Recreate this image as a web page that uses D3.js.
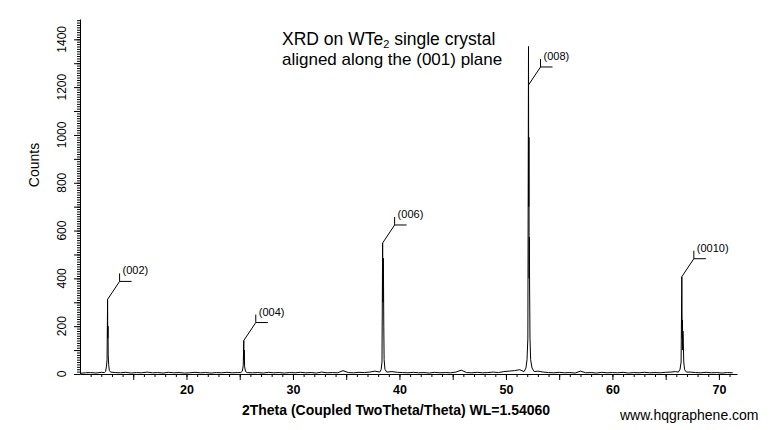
<!DOCTYPE html>
<html>
<head>
<meta charset="utf-8">
<script src="https://cdn.jsdelivr.net/npm/d3@7"></script>
<style>
    body { margin: 0; background: #fff; }
    svg { display: block; font-family: "Liberation Sans", Arial, sans-serif; }
</style>
</head>
<body>
<div id="xrd-chart"></div>
<script>

// scan points, 2theta (deg)
let scanAngles = [
    10.0, 10.5, 11.0, 11.5, 12.0,
    12.30, 12.40, 12.48, 12.54, 12.59, 12.61, 12.63, 12.65, 12.69, 12.75, 12.88,
    13.3, 13.8, 14.3, 14.8, 15.3, 15.8, 16.3, 16.8, 17.3, 17.8, 18.3, 18.8, 19.3, 19.8,
    20.3, 20.8, 21.3, 21.8, 22.3, 22.8, 23.3, 23.8, 24.3, 24.8,
    25.10, 25.25, 25.33, 25.38, 25.40, 25.42, 25.46, 25.55, 25.70,
    26.2, 26.7, 27.2, 27.7, 28.2, 28.7, 29.2, 29.7, 30.2, 30.7, 31.2, 31.7, 32.2, 32.7,
    33.2, 33.7, 34.2, 34.7, 35.2, 35.7, 36.2, 36.7, 37.2, 37.7,
    38.15, 38.28, 38.36, 38.42, 38.45, 38.48, 38.50, 38.53, 38.56, 38.64, 38.80,
    39.3, 39.8, 40.3, 40.8, 41.3, 41.8, 42.3, 42.8, 43.3, 43.8, 44.3, 44.8, 45.3, 45.8,
    46.3, 46.8, 47.3, 47.8, 48.3, 48.8, 49.3, 49.8, 50.3, 50.8, 51.3,
    51.70, 51.88, 51.98, 52.06, 52.12, 52.14, 52.16, 52.18, 52.20, 52.22, 52.26, 52.32, 52.45, 52.65,
    53.0, 53.5, 54.0, 54.5, 55.0, 55.5, 56.0, 56.5, 57.0, 57.5, 58.0, 58.5, 59.0, 59.5,
    60.0, 60.5, 61.0, 61.5, 62.0, 62.5, 63.0, 63.5, 64.0, 64.5, 65.0, 65.5, 65.9,
    66.20, 66.35, 66.45, 66.52, 66.55, 66.58, 66.60, 66.62, 66.65, 66.70, 66.78, 66.95,
    67.3, 67.8, 68.3, 68.8, 69.3, 69.8, 70.3, 70.8, 71.3
];

// counts at each scan point
let scanCounts = [
    3, 5, 6, 4, 7,
    6, 10, 30, 60, 312, 150, 200, 80, 40, 15, 8,
    6, 5, 7, 4, 6, 5, 8, 5, 6, 4, 7, 5, 6, 4,
    5, 7, 5, 6, 4, 6, 5, 7, 5, 6,
    6, 12, 35, 140, 60, 100, 30, 10, 6,
    5, 6, 4, 7, 5, 6, 4, 6, 5, 7, 5, 6, 4, 8,
    5, 6, 5, 14, 6, 5, 7, 6, 8, 12,
    8, 18, 50, 548, 300, 485, 420, 200, 60, 20, 8,
    10, 7, 6, 5, 7, 5, 6, 4, 7, 5, 6, 5, 8, 16,
    6, 5, 7, 5, 6, 8, 6, 10, 12, 14, 18,
    10, 25, 60, 150, 1370, 700, 990, 400, 573, 385, 150, 60, 25, 10,
    12, 8, 6, 5, 7, 5, 6, 4, 12, 5, 6, 4, 7, 5,
    6, 5, 7, 4, 6, 5, 7, 5, 6, 5, 7, 8, 10,
    8, 20, 50, 407, 150, 226, 100, 180, 142, 50, 18, 8,
    8, 6, 5, 7, 5, 6, 4, 6, 5
];

// reflections: label, 2theta, counts where the leader starts
let peakLabels = ["(002)", "(004)", "(006)", "(008)", "(0010)"];
let peakAngles = [12.59, 25.38, 38.42, 52.12, 66.52];
let peakLeaderCounts = [312, 140, 548, 1209, 407];

let xTickLabels = [20, 30, 40, 50, 60, 70];
let yTickLabels = [0, 200, 400, 600, 800, 1000, 1200, 1400];

let width = 782,
    height = 430;

let svg = d3.select("#xrd-chart")
    .append("svg")
    .attr("width", width)
    .attr("height", height);

svg.append("rect")
    .attr("width", width)
    .attr("height", height)
    .attr("fill", "#fff");

// scales
let x = d3.scaleLinear()
    .domain([10, 71.7])
    .range([80, 737]);

let y = d3.scaleLinear()
    .domain([0, 1485])
    .range([374, 19]);

// x axis: minor ticks every degree, longer every 5
svg.append("g")
    .attr("transform", "translate(0, 374)")
    .call(d3.axisBottom(x).tickValues(d3.range(11, 72, 1)).tickSize(3).tickFormat(""))
    .call(g => g.select(".domain").remove());

let xAxis = svg.append("g")
    .attr("class", "x-axis")
    .attr("transform", "translate(0, 374)")
    .call(d3.axisBottom(x).tickValues(d3.range(15, 72, 5)).tickSize(6).tickSizeOuter(0).tickPadding(5)
        .tickFormat(d => xTickLabels.includes(d) ? d : ""));

xAxis.selectAll("text")
    .attr("font-size", "12.5px")
    .attr("font-weight", "bold")
    .attr("font-family", "Liberation Sans, Arial, sans-serif")
    .attr("fill", "#000");

// y axis: minor ticks every 10, longer every 100
svg.append("g")
    .attr("transform", "translate(80, 0)")
    .call(d3.axisLeft(y).tickValues(d3.range(0, 1481, 10)).tickSize(3).tickFormat(""))
    .call(g => g.select(".domain").remove());

svg.append("g")
    .attr("class", "y-axis")
    .attr("transform", "translate(80, 0)")
    .call(d3.axisLeft(y).tickValues(d3.range(0, 1481, 100)).tickSize(6).tickSizeOuter(0).tickFormat(""));

svg.selectAll(".domain, .tick line").attr("stroke", "#000");

// rotated y tick labels
svg.selectAll(".y-label")
    .data(yTickLabels)
    .enter()
    .append("text")
    .attr("class", "y-label")
    .attr("transform", d => "translate(66, " + y(d) + ") rotate(-90)")
    .attr("text-anchor", "middle")
    .attr("font-size", "12px")
    .text(d => d);

// the scan
let line = d3.line()
    .x((d, i) => x(scanAngles[i]))
    .y(d => y(d));

svg.append("path")
    .datum(scanCounts)
    .attr("d", line)
    .attr("fill", "none")
    .attr("stroke", "#000")
    .attr("stroke-width", 1);

// peak leaders
let leaders = svg.selectAll(".leader")
    .data(peakLabels)
    .enter()
    .append("g")
    .attr("class", "leader")
    .attr("transform", (d, i) => "translate(" + x(peakAngles[i]) + ", " + y(peakLeaderCounts[i]) + ")");

leaders.append("path")
    .attr("d", "M0,0 L12,-18 L24,-18 M12,-18 L12,-26")
    .attr("fill", "none")
    .attr("stroke", "#000")
    .attr("stroke-width", 1);

leaders.append("text")
    .attr("x", 15)
    .attr("y", -25)
    .attr("font-size", "11px")
    .text(d => d);

// title
let title = svg.append("text")
    .attr("x", 282)
    .attr("y", 45)
    .attr("font-size", "17.5px");

title.append("tspan").text("XRD on WTe");
title.append("tspan").attr("font-size", "11px").attr("dy", 3).text("2");
title.append("tspan").attr("dy", -3).text(" single crystal");

svg.append("text")
    .attr("x", 282)
    .attr("y", 65)
    .attr("font-size", "17px")
    .text("aligned along the (001) plane");

// axis titles
svg.append("text")
    .attr("transform", "translate(39, 165) rotate(-90)")
    .attr("text-anchor", "middle")
    .attr("font-size", "14px")
    .text("Counts");

svg.append("text")
    .attr("x", 396)
    .attr("y", 415)
    .attr("text-anchor", "middle")
    .attr("font-size", "14px")
    .attr("font-weight", "bold")
    .text("2Theta (Coupled TwoTheta/Theta) WL=1.54060");

svg.append("text")
    .attr("x", 620)
    .attr("y", 420)
    .attr("font-size", "14px")
    .text("www.hqgraphene.com");

</script>
</body>
</html>
